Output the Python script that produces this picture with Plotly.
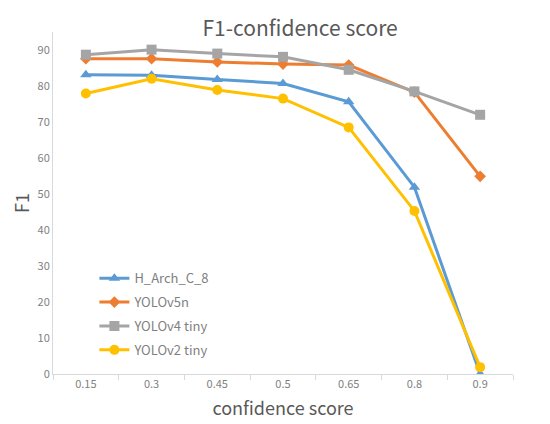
import plotly.graph_objects as go

categories = ["0.15", "0.3", "0.45", "0.5", "0.65", "0.8", "0.9"]
h_arch = [83.1, 83.0, 81.8, 80.7, 75.6, 51.9, 0.0]
yolov5n = [87.6, 87.6, 86.7, 86.1, 85.8, 78.3, 54.9]
yolov4_tiny = [88.7, 90.1, 89.0, 88.1, 84.5, 78.5, 72.0]
yolov2_tiny = [77.9, 82.0, 78.9, 76.5, 68.5, 45.3, 1.9]
y_ticks = [0, 10, 20, 30, 40, 50, 60, 70, 80, 90]

FONT = "Noto Sans CJK SC, Noto Sans, sans-serif"

series = [
    ("H_Arch_C_8", h_arch, "#5B9BD5", "triangle-up"),
    ("YOLOv5n", yolov5n, "#ED7D31", "diamond"),
    ("YOLOv4 tiny", yolov4_tiny, "#A5A5A5", "square"),
    ("YOLOv2 tiny", yolov2_tiny, "#FFC000", "circle"),
]

fig = go.Figure()
for name, vals, color, sym in series:
    fig.add_trace(go.Scatter(
        x=categories, y=vals, name=name, mode="lines+markers",
        legendgroup=name,
        line=dict(color=color, width=3),
        marker=dict(symbol=sym, size=10 if sym != "diamond" else 9, color=color),
    ))

fig.update_layout(
    width=542, height=416,
    paper_bgcolor="white", plot_bgcolor="white",
    margin=dict(l=45, r=37, t=24, b=50),
    font=dict(family=FONT, color="#7f7f7f"),
    title=dict(text="F1-confidence score", x=0.539, xanchor="center",
               y=0.968, yanchor="top", yref="container", pad=dict(t=0, b=0),
               font=dict(size=21, color="#595959", family=FONT)),
    showlegend=True,
    legend=dict(x=0.09, y=0.324, xanchor="left", yanchor="top",
                bgcolor="rgba(0,0,0,0)", font=dict(size=13, color="#7f7f7f"),
                tracegroupgap=4, itemwidth=30),
    xaxis=dict(
        type="category", range=[-0.5, 6.5], automargin=False,
        showline=True, linecolor="#d9d9d9", linewidth=1,
        ticks="outside", tickson="boundaries", ticklen=5, tickcolor="#d9d9d9",
        showgrid=False, zeroline=False,
        tickfont=dict(size=11, color="#7f7f7f"),
        title=dict(text="confidence score", font=dict(size=18, color="#595959"), standoff=12),
    ),
    yaxis=dict(
        range=[0, 95], tickvals=y_ticks, automargin=False,
        showline=True, linecolor="#d9d9d9", linewidth=1,
        showgrid=False, zeroline=False, ticks="",
        tickfont=dict(size=11, color="#7f7f7f"),
        title=dict(text="F1", font=dict(size=18, color="#595959"), standoff=20),
    ),
)

fig.write_html("out.html")
